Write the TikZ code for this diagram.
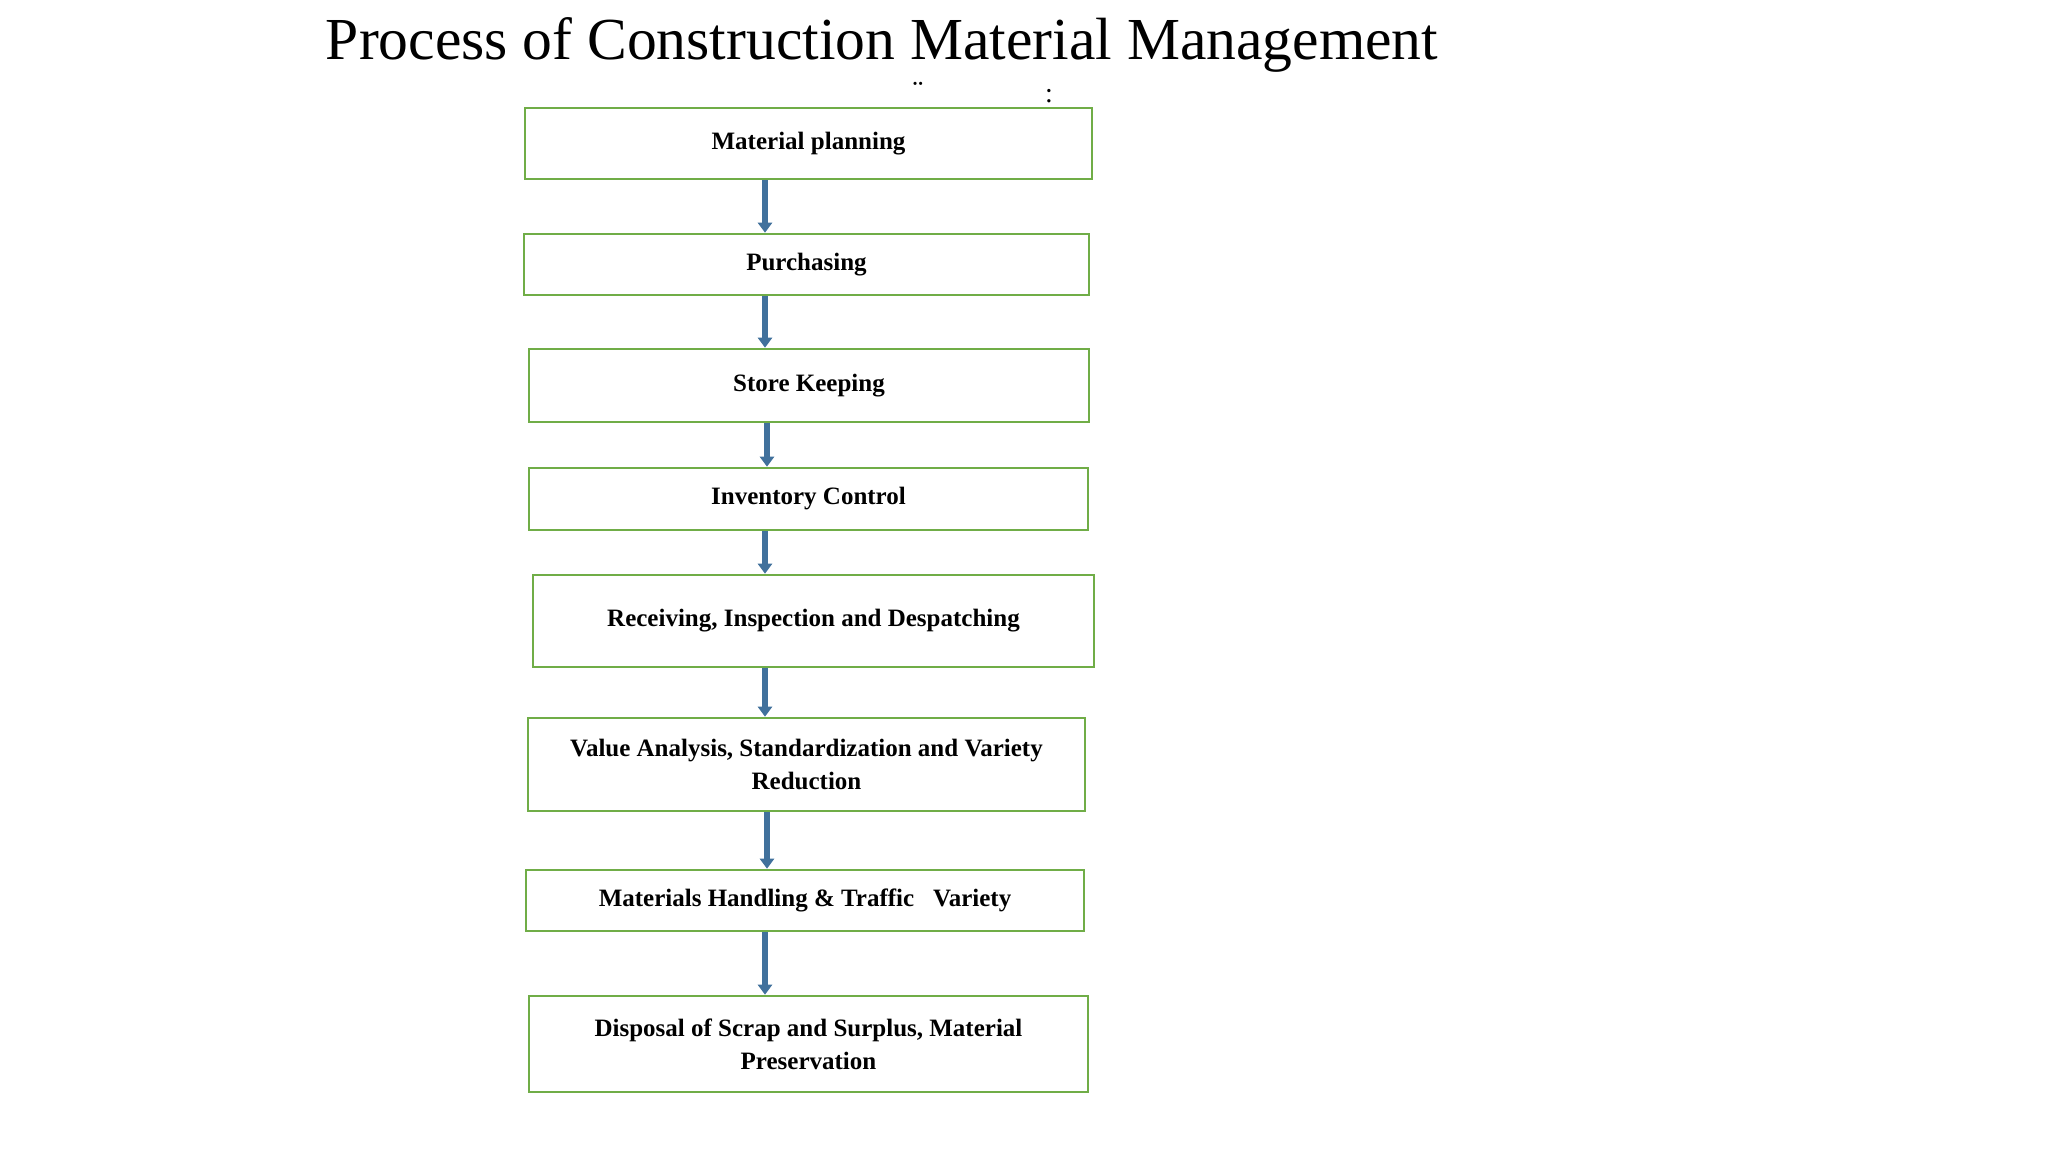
\documentclass[tikz,border=0pt]{standalone}
\usepackage{fontspec}
\setmainfont{Liberation Serif}
\usetikzlibrary{arrows.meta}
\definecolor{boxgreen}{RGB}{112,173,71}
\definecolor{arrowblue}{RGB}{65,113,156}
\tikzset{
  stepbox/.style={draw=boxgreen, line width=1.3pt, align=center, font=\fontsize{12.5}{16.5}\selectfont\bfseries, inner sep=0pt},
  flow/.style={draw=arrowblue, line width=2.6pt, -{Triangle[length=5pt,width=7pt]}, shorten >=0pt}
}
\newcommand{\mybox}[6]{\node[stepbox, minimum width={(#4-#2)*0.5pt}, minimum height={(#5-#3)*0.5pt}] (#1) at ({(#2+#4)/2},{(#3+#5)/2}) {#6};}
\begin{document}
\begin{tikzpicture}[x=0.5pt,y=-0.5pt]
\useasboundingbox (0,0) rectangle (2048,1152);
\node[font=\fontsize{29.8}{34}\selectfont] (title) at (882,45) {Process of Construction Material Management};
\node[font=\fontsize{16}{16}\selectfont, inner sep=0pt] (d1) at (918,92) {¨};
\node[font=\fontsize{14}{14}\selectfont, inner sep=0pt] (d2) at (1049,96) {:};
\mybox{b1}{525}{108}{1092}{179}{Material planning}
\mybox{b2}{524}{234}{1089}{295}{Purchasing}
\mybox{b3}{529}{349}{1089}{422}{Store Keeping}
\mybox{b4}{529}{468}{1088}{530}{Inventory Control}
\mybox{b5}{533}{575}{1094}{667}{Receiving, Inspection and Despatching}
\mybox{b6}{528}{718}{1085}{811}{Value Analysis, Standardization and Variety\\Reduction}
\mybox{b7}{526}{870}{1084}{931}{Materials Handling \& Traffic\ \ \ Variety}
\mybox{b8}{529}{996}{1088}{1092}{Disposal of Scrap and Surplus, Material\\Preservation}
\foreach \a/\b/\x in {b1/b2/765,b2/b3/765,b3/b4/767,b4/b5/765,b5/b6/765,b6/b7/767,b7/b8/765}{
  \draw[flow] (\x,0 |- \a.south) -- (\x,0 |- \b.north);
}
\end{tikzpicture}
\end{document}
